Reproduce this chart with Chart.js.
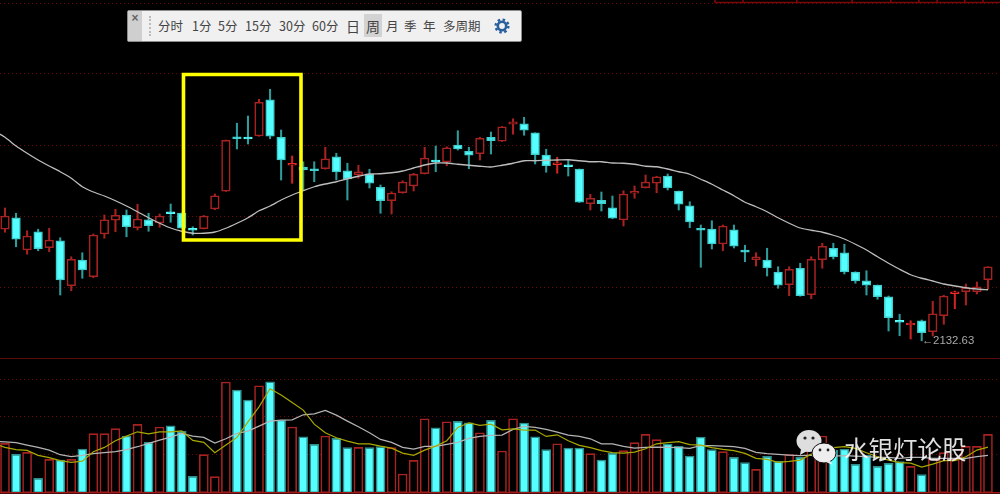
<!DOCTYPE html>
<html>
<head>
<meta charset="utf-8">
<script src="https://cdn.jsdelivr.net/npm/chart.js@4/dist/chart.umd.js"></script>
<style>
html, body { margin: 0; padding: 0; background: #000; overflow: hidden; }
#wrap { position: relative; width: 1000px; height: 494px; }
#klineChart { display: block; background: #000; }
#toolbar { position: absolute; left: 127px; top: 10px; width: 393px; height: 30px; background: #f0f0f0; border: 1px solid #8c8c8c; border-radius: 2px; }
#toolbar span { position: absolute; top: 6px; font: 12.5px/18px "Noto Sans CJK SC", sans-serif; color: #444; white-space: nowrap; }
#toolbar #closeStrip { left: 0; top: 0; width: 14px; height: 30px; background: #cfcfcf; font: bold 12px/14px "Liberation Sans", sans-serif; color: #666; text-align: center; }
#toolbar #handle { position: absolute; left: 21px; top: 5px; height: 20px; border-left: 2px dotted #bbb; }
#toolbar #active { position: absolute; left: 236px; top: 3px; width: 18px; height: 23px; background: #d2d2d2; }
#toolbar svg { position: absolute; left: 366px; top: 7px; }
#wechat { position: absolute; left: 795px; top: 428px; }
#mark { position: absolute; left: 844px; top: 432px; font: 24.5px/34px "Noto Sans CJK SC", sans-serif; color: rgba(255,255,255,0.88); letter-spacing: 0; white-space: nowrap; }
</style>
</head>
<body>
<div id="wrap">
    <canvas id="klineChart" width="1000" height="494"></canvas>
    <div id="toolbar">
        <span id="closeStrip">×</span>
        <div id="handle"></div>
        <div id="active"></div>
        <span style="left:30px">分时</span>
        <span style="left:64px">1分</span>
        <span style="left:90px">5分</span>
        <span style="left:117px">15分</span>
        <span style="left:151px">30分</span>
        <span style="left:184px">60分</span>
        <span style="left:218px;font-size:14px">日</span>
        <span style="left:238px;font-size:14px">周</span>
        <span style="left:258px">月</span>
        <span style="left:276px">季</span>
        <span style="left:295px">年</span>
        <span style="left:315px">多周期</span>
        <svg width="16" height="16" viewBox="0 0 16 16">
            <circle cx="8" cy="8" r="6.4" fill="none" stroke="#2a5f9e" stroke-width="2.4" stroke-dasharray="2.5 2.5"/>
            <circle cx="8" cy="8" r="4.2" fill="none" stroke="#2a5f9e" stroke-width="2.6"/>
        </svg>
    </div>
    <svg id="wechat" width="44" height="38" viewBox="0 0 44 38">
        <ellipse cx="14" cy="13" rx="12.5" ry="11" fill="#dedede"/>
        <path d="M6 21 L5 27 L12 23 Z" fill="#dedede"/>
        <circle cx="10" cy="10" r="1.6" fill="#222"/>
        <circle cx="18" cy="10" r="1.6" fill="#222"/>
        <ellipse cx="29" cy="25" rx="12" ry="10" fill="#eee" stroke="#111" stroke-width="1"/>
        <path d="M35 33 L38 37 L31 34 Z" fill="#eee"/>
        <circle cx="25" cy="22" r="1.4" fill="#222"/>
        <circle cx="33" cy="22" r="1.4" fill="#222"/>
    </svg>
    <div id="mark">水银灯论股</div>
</div>
<script>
const opens = [2579,2625,2496,2569,2505,2533,2353,2456,2389,2560,2615,2636,2585,2617,2604,2645,2644,2581,2581,2660,2731,2949,2944,2952,3097,2947,2835,2828,2820,2821,2869,2813,2797,2800,2747,2693,2725,2752,2801,2853,2848,2916,2891,2881,2947,2931,2999,3001,2965,2876,2837,2832,2820,2681,2695,2665,2616,2723,2745,2763,2792,2732,2673,2583,2580,2520,2577,2496,2457,2456,2408,2357,2423,2317,2457,2503,2485,2408,2373,2356,2309,2211,2196,2213,2169,2233,2321,2329,2329,2377];
const closes = [2632,2539,2552,2501,2536,2376,2459,2416,2556,2617,2635,2589,2620,2593,2632,2641,2583,2575,2632,2713,2935,2941,2940,3087,2951,2856,2839,2816,2813,2861,2808,2780,2809,2763,2693,2724,2768,2799,2864,2848,2905,2900,2875,2943,2933,2989,3009,2975,2877,2833,2840,2829,2687,2703,2681,2623,2720,2731,2768,2789,2744,2679,2608,2575,2520,2592,2511,2487,2469,2424,2355,2419,2313,2459,2511,2468,2408,2372,2355,2309,2225,2207,2201,2165,2241,2312,2325,2345,2349,2429];
const highs = [2664,2643,2573,2579,2583,2545,2469,2485,2560,2636,2659,2656,2679,2643,2640,2680,2644,2589,2634,2720,2936,3003,3032,3099,3139,2976,2872,2849,2849,2907,2883,2843,2835,2819,2756,2729,2773,2803,2907,2912,2909,2973,2907,2947,2968,2990,3021,3027,2965,2899,2867,2856,2820,2719,2728,2712,2733,2752,2796,2791,2800,2732,2689,2596,2613,2596,2596,2515,2485,2503,2429,2429,2443,2469,2523,2523,2519,2409,2413,2356,2312,2239,2213,2216,2291,2315,2332,2360,2368,2429];
const lows = [2567,2509,2479,2493,2489,2316,2333,2383,2385,2543,2569,2549,2576,2571,2587,2607,2583,2556,2580,2657,2730,2900,2920,2951,2941,2776,2763,2736,2769,2819,2776,2696,2783,2744,2643,2640,2723,2732,2800,2809,2833,2896,2821,2856,2880,2930,2959,2955,2840,2807,2803,2792,2686,2656,2652,2621,2592,2703,2744,2725,2736,2656,2585,2427,2500,2493,2504,2449,2432,2392,2343,2313,2311,2301,2423,2460,2400,2363,2316,2299,2172,2153,2140,2132.63,2152,2199,2261,2276,2320,2339];
// the MA arrays start one week left of the visible window
const priceMa = [2972,2947,2912,2883,2856,2832,2809,2783,2749,2728,2712,2693,2672,2649,2625,2603,2584,2571,2563,2563,2568,2583,2603,2625,2653,2672,2696,2716,2733,2749,2760,2769,2781,2791,2800,2801,2805,2812,2824,2836,2844,2844,2839,2835,2831,2828,2835,2843,2853,2853,2855,2856,2857,2853,2849,2849,2844,2843,2839,2831,2829,2820,2809,2799,2779,2759,2736,2713,2687,2669,2649,2625,2603,2584,2575,2567,2555,2540,2519,2496,2469,2443,2419,2397,2383,2372,2360,2352,2345,2340,2337];

const volumes = [493,383,403,143,333,326,333,436,590,590,640,566,683,503,656,669,613,163,380,160,1106,1026,926,1069,1109,726,656,559,483,566,543,450,453,450,460,450,186,323,739,649,709,713,699,599,723,416,739,696,559,430,489,446,446,390,326,393,420,500,583,530,486,463,366,556,430,410,353,300,233,363,313,380,353,520,566,426,436,283,373,263,293,310,263,180,343,400,336,463,463,583];
const volMaFast = [490,453,430,423,373,350,320,303,316,410,453,520,566,609,589,609,609,619,523,503,400,476,553,709,859,1039,976,902,826,686,599,549,516,489,489,466,446,396,373,426,466,520,653,699,673,686,629,639,626,626,563,579,520,473,450,420,400,396,406,440,489,500,510,480,476,450,433,420,393,343,333,303,313,326,386,410,450,460,443,400,360,326,300,296,256,286,320,320,360,426,456];
const volMaSlow = [515,509,500,476,453,426,380,360,373,390,400,410,430,460,493,526,556,593,566,553,496,539,593,616,666,716,726,729,779,789,822,776,716,659,599,533,503,453,436,463,463,483,503,543,563,573,576,633,663,653,633,606,576,563,539,489,489,463,446,453,456,453,450,443,470,470,466,460,443,403,390,383,376,370,376,366,366,370,366,360,353,353,343,353,353,343,343,343,343,360,373];

const priceGrid = [3484,3200,2916,2632,2348];
const volGrid = [384,760,1137];
const separatorPrice = 2062;
const highlightX = [16.16,26.8,26.8,16.16,16.16];
const highlightY = [3198,3198,2536,2536,3198];
const topRuleX = [64.28,91];
const topRuleY = 3486;
const topTicks = [64.28,66.82,71.7,76.7,80.2,82.75,84.4,86.9,88.55];

const lowIndex = lows.indexOf(Math.min(...lows));

const CYAN = '#55ffff', RED = '#a82222', BRIGHT = '#f02828', TEAL = '#2f9c9c';
const isUp = i => closes[i] >= opens[i];
const isDoji = i => Math.abs(closes[i] - opens[i]) <= 6;
const pts = (arr, off) => arr.map((v, i) => ({ x: i + (off || 0), y: v }));

const bodyColor = opens.map((o, i) => isUp(i) ? '#000' : CYAN);
const bodyEdge = opens.map((o, i) => isUp(i) ? (isDoji(i) ? BRIGHT : RED) : (isDoji(i) ? CYAN : '#3fcfcf'));
const wickColor = opens.map((o, i) => isUp(i) ? (isDoji(i) ? '#d02424' : RED) : TEAL);
const volEdge = opens.map((o, i) => isUp(i) ? RED : '#2f8f8f');

const lowLabel = {
    id: 'lowLabel',
    afterDatasetsDraw(chart) {
        const { ctx, scales } = chart;
        ctx.save();
        ctx.font = '11.4px "Liberation Sans", sans-serif';
        ctx.fillStyle = '#a8a8a8';
        ctx.textBaseline = 'middle';
        ctx.fillText('←' + lows[lowIndex].toFixed(2), scales.x.getPixelForValue(lowIndex), scales.y.getPixelForValue(lows[lowIndex]));
        ctx.restore();
    }
};

const ctx = document.getElementById('klineChart').getContext('2d');
new Chart(ctx, {
    data: {
        datasets: [
            { type: 'bar', order: 9, data: opens.map((o, i) => ({ x: i, y: [lows[i], highs[i]] })), backgroundColor: wickColor, barThickness: 1.4, grouped: false, borderWidth: 0 },
            { type: 'bar', order: 8, data: opens.map((o, i) => ({ x: i, y: [o, closes[i]] })), backgroundColor: bodyColor, borderColor: bodyEdge, borderWidth: 1.6, borderSkipped: false, barThickness: 8.6, minBarLength: 2, grouped: false },
            { type: 'line', order: 5, data: pts(priceMa, -1), borderColor: '#bdbdbd', borderWidth: 1.3, pointRadius: 0, tension: 0.2 },
            { type: 'bar', order: 7, yAxisID: 'yVol', data: volumes.map((v, i) => ({ x: i, y: v })), backgroundColor: bodyColor, borderColor: volEdge, borderWidth: 1.6, borderSkipped: false, barThickness: 9, grouped: false },
            { type: 'line', order: 3, yAxisID: 'yVol', data: pts(volMaSlow, -1), borderColor: '#b4b4b4', borderWidth: 1.2, pointRadius: 0 },
            { type: 'line', order: 2, yAxisID: 'yVol', data: pts(volMaFast, -1), borderColor: '#a8a800', borderWidth: 1.2, pointRadius: 0 },
            { type: 'line', order: 6, data: [{ x: -1, y: separatorPrice }, { x: 91, y: separatorPrice }], borderColor: '#5a0808', borderWidth: 1.2, pointRadius: 0 },
            { type: 'line', order: 6, yAxisID: 'yVol', data: [{ x: -1, y: 0 }, { x: 91, y: 0 }], borderColor: '#a01818', borderWidth: 1.4, pointRadius: 0 },
            { type: 'line', order: 6, data: topRuleX.map(x => ({ x: x, y: topRuleY })), borderColor: '#7a0808', borderWidth: 1.4, pointRadius: 0 },
            { type: 'bar', order: 6, data: topTicks.map(x => ({ x: x, y: [topRuleY, 3496] })), backgroundColor: '#7a0808', barThickness: 1, grouped: false, borderWidth: 0 },
            { type: 'line', order: 1, data: highlightX.map((x, i) => ({ x: x, y: highlightY[i] })), borderColor: '#ffff00', borderWidth: 3.6, borderJoinStyle: 'miter', borderCapStyle: 'square', pointRadius: 0 }
        ]
    },
    options: {
        responsive: false,
        animation: false,
        layout: { padding: 0 },
        plugins: { legend: { display: false }, tooltip: { enabled: false } },
        scales: {
            x: { type: 'linear', display: false, offset: false, min: -0.4527, max: 90.09 },
            y: {
                type: 'linear',
                min: 1520,
                max: 3496,
                ticks: { display: false },
                grid: { color: '#6a0808', lineWidth: 1, drawTicks: false },
                border: { display: false, dash: [1, 3] },
                afterBuildTicks: scale => { scale.ticks = priceGrid.map(v => ({ value: v })); }
            },
            yVol: {
                type: 'linear',
                position: 'left',
                min: -13,
                max: 4927,
                ticks: { display: false },
                grid: { color: '#6a0808', lineWidth: 1, drawTicks: false },
                border: { display: false, dash: [1, 3] },
                afterBuildTicks: scale => { scale.ticks = volGrid.map(v => ({ value: v })); }
            }
        }
    },
    plugins: [lowLabel]
});
</script>
</body>
</html>
